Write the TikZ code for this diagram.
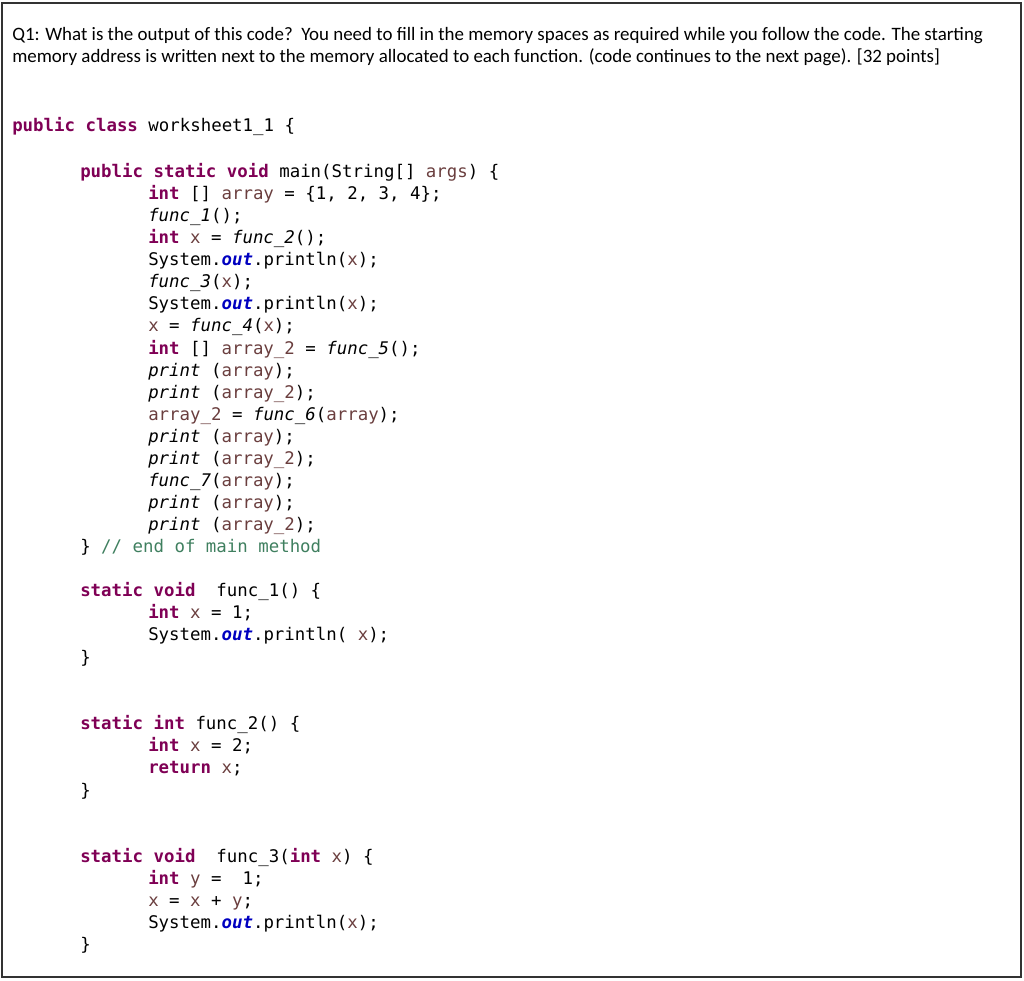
\documentclass[tikz,border=0pt]{standalone}
\usepackage{fontspec}
\setmainfont{Carlito}
\setmonofont{DejaVu Sans Mono}
\definecolor{kwc}{HTML}{7F0055}
\definecolor{vrc}{HTML}{6A3E3E}
\definecolor{outc}{HTML}{0000C0}
\definecolor{cmc}{HTML}{3F7F5F}
\newcommand{\kw}[1]{\textbf{\color{kwc}#1}}
\newcommand{\vr}[1]{{\color{vrc}#1}}
\newcommand{\fn}[1]{\textit{#1}}
\newcommand{\outw}{\textbf{\textit{\color{outc}out}}}
\begin{document}
\begin{tikzpicture}[x=0.75pt,y=-0.75pt,
  code/.style={anchor=base west,inner sep=0pt,font=\ttfamily\fontsize{13.05}{15}\selectfont},
  prose/.style={anchor=base west,inner sep=0pt,font=\fontsize{14.2}{16}\selectfont}]
\useasboundingbox (0,0) rectangle (1024,981);
\draw[line width=1pt,black!80] (2,3) rectangle (1021,977);
\node[prose] (t1) at (12,41) {Q1: What is the output of this code?\ \ You need to fill in the memory spaces as required while you follow the code. The starting};
\node[prose] (t2) at (12,63) {memory address is written next to the memory allocated to each function. (code continues to the next page). [32 points]};
\node[code] (c0) at (12,131) {\kw{public} \kw{class} worksheet1\_1 \{};
\node[code] (c1) at (80,177) {\kw{public} \kw{static} \kw{void} main(String[] \vr{args}) \{};
\node[code] at (148,199) {\kw{int} [] \vr{array} = \{1, 2, 3, 4\};};
\node[code] at (148,221) {\fn{func\_1}();};
\node[code] at (148,243) {\kw{int} \vr{x} = \fn{func\_2}();};
\node[code] at (148,265) {System.\outw.println(\vr{x});};
\node[code] at (148,287) {\fn{func\_3}(\vr{x});};
\node[code] at (148,309) {System.\outw.println(\vr{x});};
\node[code] at (148,331) {\vr{x} = \fn{func\_4}(\vr{x});};
\node[code] at (148,354) {\kw{int} [] \vr{array\_2} = \fn{func\_5}();};
\node[code] at (148,376) {\fn{print} (\vr{array});};
\node[code] at (148,398) {\fn{print} (\vr{array\_2});};
\node[code] at (148,420) {\vr{array\_2} = \fn{func\_6}(\vr{array});};
\node[code] at (148,442) {\fn{print} (\vr{array});};
\node[code] at (148,464) {\fn{print} (\vr{array\_2});};
\node[code] at (148,486) {\fn{func\_7}(\vr{array});};
\node[code] at (148,508) {\fn{print} (\vr{array});};
\node[code] at (148,530) {\fn{print} (\vr{array\_2});};
\node[code] at (80,552) {\} {\color{cmc}// end of main method}};
\node[code] at (80,596) {\kw{static} \kw{void}~ func\_1() \{};
\node[code] at (148,618) {\kw{int} \vr{x} = 1;};
\node[code] at (148,640) {System.\outw.println( \vr{x});};
\node[code] at (80,663) {\}};
\node[code] at (80,729) {\kw{static} \kw{int} func\_2() \{};
\node[code] at (148,751) {\kw{int} \vr{x} = 2;};
\node[code] at (148,773) {\kw{return} \vr{x};};
\node[code] at (80,796) {\}};
\node[code] at (80,862) {\kw{static} \kw{void}~ func\_3(\kw{int} \vr{x}) \{};
\node[code] at (148,884) {\kw{int} \vr{y} =~ 1;};
\node[code] at (148,906) {\vr{x} = \vr{x} + \vr{y};};
\node[code] at (148,928) {System.\outw.println(\vr{x});};
\node[code] at (80,950) {\}};
\end{tikzpicture}
\end{document}
